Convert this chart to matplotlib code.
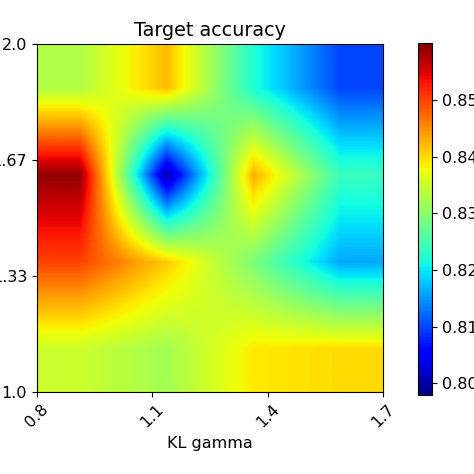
import matplotlib
matplotlib.use("Agg")
import matplotlib.pyplot as plt
import numpy as np

plt.rcParams["font.size"] = 11.5

x_ticks = [0.8, 1.1, 1.4, 1.7]
y_ticks = [1.0, 1.33, 1.67, 2.0]
# rows from bottom (y) to top, columns along x
values = [
    [0.835, 0.832, 0.839, 0.840],
    [0.850, 0.841, 0.829, 0.816],
    [0.859, 0.800, 0.843, 0.824],
    [0.833, 0.842, 0.822, 0.810],
]
cbar_ticks = [0.80, 0.81, 0.82, 0.83, 0.84, 0.85]

fig = plt.figure(figsize=(4.74, 4.74), dpi=100)
ax = fig.add_axes([0.078, 0.173, 0.730, 0.734])
im = ax.imshow(np.array(values), origin="lower", cmap="jet", interpolation="bilinear",
               extent=[0, 1, 0, 1], aspect="auto", vmin=0.798, vmax=0.860)
ax.set_xticks(np.linspace(0, 1, 4))
ax.set_xticklabels([str(v) for v in x_ticks], rotation=45)
ax.set_yticks(np.linspace(0, 1, 4))
ax.set_yticklabels([f"{v:.2f}" if v not in (1.0, 2.0) else f"{v:.1f}" for v in y_ticks])
ax.set_xlabel("KL gamma")
ax.set_title("Target accuracy")
cax = fig.add_axes([0.882, 0.167, 0.030, 0.742])
cb = fig.colorbar(im, cax=cax, ticks=cbar_ticks)
cb.ax.set_yticklabels([f"{v:.3f}" for v in cbar_ticks])
fig.savefig("out.png", dpi=100)
